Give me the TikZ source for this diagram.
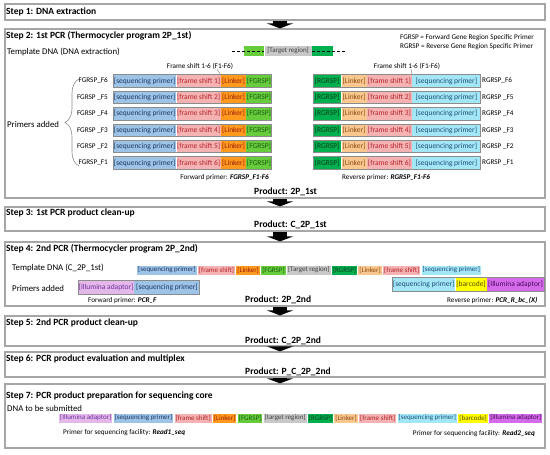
\documentclass[tikz,border=0pt]{standalone}
\usepackage{fontspec}
\setmainfont{Carlito}
\usetikzlibrary{arrows.meta,positioning,fit,decorations.pathreplacing}
\definecolor{BoxGrey}{HTML}{A6A6A6}
\definecolor{RowGrey}{HTML}{8C8C8C}
\definecolor{SeqBlue}{HTML}{9DC3E6}
\definecolor{SeqBlueTxt}{HTML}{1F3864}
\definecolor{SeqCyan}{HTML}{A3E7F7}
\definecolor{SeqCyanTxt}{HTML}{1F4E79}
\definecolor{FramePink}{HTML}{F5B2B2}
\definecolor{FramePinkTxt}{HTML}{B4232A}
\definecolor{LinkOrange}{HTML}{FF9A1E}
\definecolor{LinkOrangeTxt}{HTML}{9C1B0E}
\definecolor{LinkPeach}{HTML}{FAC78E}
\definecolor{LinkPeachTxt}{HTML}{8A4A12}
\definecolor{FGreen}{HTML}{66CC3C}
\definecolor{FGreenTxt}{HTML}{1D5A12}
\definecolor{RGreen}{HTML}{00B04F}
\definecolor{RGreenTxt}{HTML}{0B3A1A}
\definecolor{TargetGrey}{HTML}{C8C8C8}
\definecolor{TargetGreyTxt}{HTML}{3F3F3F}
\definecolor{IllViolet}{HTML}{E4B9EA}
\definecolor{IllVioletTxt}{HTML}{7030A0}
\definecolor{IllMagenta}{HTML}{D56BEB}
\definecolor{IllMagentaTxt}{HTML}{4A0A5C}
\definecolor{BarYellow}{HTML}{FFFF00}
\definecolor{BarYellowTxt}{HTML}{5A4B00}

\begin{document}
\begin{tikzpicture}[x=1pt,y=-1pt,
  every node/.style={font=\fontsize{7}{8}\selectfont, inner sep=0pt},
  stepbox/.style={draw=BoxGrey, line width=1.2pt, inner sep=0pt},
  steptitle/.style={anchor=west, font=\fontsize{9.5}{11}\selectfont\bfseries},
  prodlabel/.style={anchor=west, font=\fontsize{9.5}{11}\selectfont\bfseries},
  plain/.style={anchor=west, font=\fontsize{8.8}{10}\selectfont},
  note/.style={font=\fontsize{7.2}{8}\selectfont},
  seg/.style={minimum height=12pt, inner xsep=0.5pt, font=\fontsize{7.5}{8}\selectfont},
  chip/.style={minimum height=9pt, inner xsep=1pt},
  rowframe/.style={draw=RowGrey, line width=0.8pt},
  blockarrow/.style={line width=14pt, -{Triangle[width=26pt,length=5pt]}},
  curly/.style={draw=RowGrey, line width=0.6pt, decorate, decoration={brace, amplitude=14pt}}]
  \fill[white] (0,0) rectangle (550,455);
  \useasboundingbox (0,0) rectangle (550,455);

  % step boxes and titles
  \foreach \i/\ya/\yb/\ty/\title in {1/4/20/12/{DNA extraction},
      2/29/198/36/{1st PCR (Thermocycler program 2P\_1st)},
      3/207/231/213/{1st PCR product clean-up},
      4/242/306/249/{2nd PCR (Thermocycler program 2P\_2nd)},
      5/316/346/323/{2nd PCR product clean-up},
      6/352/377/359/{PCR product evaluation and multiplex},
      7/384/448/396/{PCR product preparation for sequencing core}}{
    \node[stepbox, fit={(5,\ya) (545,\yb)}] (s\i) {};
    \node[steptitle] (t\i) at (6,\ty) {Step \i: \title};
  }
  \foreach \a/\b in {1/2,2/3,3/4,4/5,5/6,6/7}
    \draw[blockarrow] ([xshift=5pt]s\a.south) -- ([xshift=5pt]s\b.north);

  % products
  \node[prodlabel] (p2) at (254,192) {Product: 2P\_1st};
  \node[prodlabel] (p3) at (254,225) {Product: C\_2P\_1st};
  \node[prodlabel] (p4) at (245,300) {Product: 2P\_2nd};
  \node[prodlabel] (p5) at (245,341) {Product: C\_2P\_2nd};
  \node[prodlabel] (p6) at (245,372) {Product: P\_C\_2P\_2nd};

  % step 2
  \node[plain] (tmpl1) at (7,52) {Template DNA (DNA extraction)};
  \node[note, anchor=west] (leg1) at (400,38) {FGRSP = Forward Gene Region Specific Primer};
  \node[note, anchor=west] (leg2) at (400,47) {RGRSP = Reverse Gene Region Specific Primer};
  \node[minimum height=10pt, minimum width=20pt, fill=FGreen, anchor=west] (tg1) at (244,51) {};
  \node[minimum height=10pt, minimum width=47pt, fill=TargetGrey, text=TargetGreyTxt, right=0pt of tg1] (tg2) {[Target region]};
  \node[minimum height=10pt, minimum width=21pt, fill=RGreen, right=0pt of tg2] (tg3) {};
  \coordinate (dl) at (232,51);
  \coordinate (dr) at (345,51);
  \draw[densely dashed, line width=0.4pt] (dl) -- (tg2.west);
  \draw[densely dashed, line width=0.4pt] (tg2.east) -- (dr);

  \node[note] (fsf) at (200,66) {Frame shift 1-6 (F1-F6)};
  \node[note] (fsr) at (407,66) {Frame shift 1-6 (F1-F6)};

  \foreach \k/\fl/\rl [evaluate=\k as \y using 81+(\k-1)*16.4] in
      {1/FGRSP\_F6/RGRSP\_F6, 2/FGRSP \_F5/RGRSP \_F5, 3/FGRSP \_F4/RGRSP \_F4,
       4/FGRSP \_F3/RGRSP \_F3, 5/FGRSP \_F2/RGRSP \_F2, 6/FGRSP\_F1/RGRSP \_F1}{
    \node[seg, fill=SeqBlue, text=SeqBlueTxt, minimum width=63pt, anchor=west] (fa\k) at (113,\y) {[sequencing primer]};
    \node[seg, fill=FramePink, text=FramePinkTxt, minimum width=44pt, right=0pt of fa\k] (fb\k) {[frame shift \k]};
    \node[seg, fill=LinkOrange, text=LinkOrangeTxt, minimum width=25pt, right=0pt of fb\k] (fc\k) {[Linker]};
    \node[seg, fill=FGreen, text=FGreenTxt, minimum width=24pt, right=0pt of fc\k] (fd\k) {[FGRSP]};
    \draw[rowframe] (fa\k.north west) rectangle (fd\k.south east);
    \node[note, anchor=east] (fl\k) at (108,\y) {\fl};
    \node[seg, fill=RGreen, text=RGreenTxt, minimum width=28pt, anchor=west] (ra\k) at (313,\y) {[RGRSP]};
    \node[seg, fill=LinkPeach, text=LinkPeachTxt, minimum width=25pt, right=0pt of ra\k] (rb\k) {[Linker]};
    \node[seg, fill=FramePink, text=FramePinkTxt, minimum width=45pt, right=0pt of rb\k] (rc\k) {[frame shift \k]};
    \node[seg, fill=SeqCyan, text=SeqCyanTxt, minimum width=68pt, right=0pt of rc\k] (rd\k) {[sequencing primer]};
    \draw[rowframe] (ra\k.north west) rectangle (rd\k.south east);
    \node[note, anchor=west] (rl\k) at (482,\y) {\rl};
  }
  \draw[RowGrey, line width=0.5pt] ([xshift=17pt]fsf.south) -- (fb1.north east);
  \draw[RowGrey, line width=0.5pt] ([xshift=4pt]fsr.south) -- (rc1.north east);

  \node[plain] (pa1) at (7,124) {Primers added};
  \coordinate (bt) at (79,79);
  \coordinate (bb) at (79,166);
  \draw[curly] (bb) -- (bt);
  \node[note, anchor=east] (fwd1) at (269,178) {Forward primer: \textbf{\textit{FGRSP\_F1-F6}}};
  \node[note, anchor=west] (rev1) at (342,178) {Reverse primer: \textbf{\textit{RGRSP\_F1-F6}}};

  % step 4
  \node[plain] (tmpl4) at (12,268) {Template DNA (C\_2P\_1st)};
  \coordinate (c4) at (136,270);
  \foreach \n/\txt/\bg/\fg [remember=\n as \prev (initially c4)] in
      {a1/[sequencing primer]/SeqBlue/SeqBlueTxt, a2/[frame shift]/FramePink/FramePinkTxt,
       a3/[Linker]/LinkOrange/LinkOrangeTxt, a4/[FGRSP]/FGreen/FGreenTxt,
       a5/[Target region]/TargetGrey/TargetGreyTxt, a6/[RGRSP]/RGreen/RGreenTxt,
       a7/[Linker]/LinkPeach/LinkPeachTxt, a8/[frame shift]/FramePink/FramePinkTxt,
       a9/[sequencing primer]/SeqCyan/SeqCyanTxt}
    \node[chip, fill=\bg, text=\fg, right=1pt of \prev] (\n) {\txt};

  \node[plain] (pa4) at (12,288) {Primers added};
  \node[seg, minimum height=13pt, fill=IllViolet, text=IllVioletTxt, minimum width=55pt, anchor=west] (fp1) at (78,287.5) {[Illumina adaptor]};
  \node[seg, minimum height=13pt, fill=SeqBlue, text=SeqBlueTxt, minimum width=65pt, right=0pt of fp1] (fp2) {[sequencing primer]};
  \draw[rowframe] (fp1.north west) rectangle (fp2.south east);
  \node[seg, minimum height=13pt, fill=SeqCyan, text=SeqCyanTxt, minimum width=63pt, anchor=west] (rp1) at (392,284.5) {[sequencing primer]};
  \node[seg, minimum height=13pt, fill=BarYellow, text=BarYellowTxt, minimum width=31pt, right=0pt of rp1] (rp2) {[barcode]};
  \node[seg, minimum height=13pt, fill=IllMagenta, text=IllMagentaTxt, minimum width=57pt, right=0pt of rp2] (rp3) {[Illumina adaptor]};
  \draw[rowframe] (rp1.north west) rectangle (rp3.south east);
  \node[note, anchor=west] (fwd4) at (88,301) {Forward primer: \textbf{\textit{PCR\_F}}};
  \node[note, anchor=west] (rev4) at (447,300) {Reverse primer: \textbf{\textit{PCR\_R\_bc\_(X)}}};

  % step 7
  \node[plain] (dna7) at (7,408) {DNA to be submitted};
  \coordinate (c7) at (58,418);
  \foreach \n/\txt/\bg/\fg [remember=\n as \prev (initially c7)] in
      {b1/[Illumina adaptor]/IllViolet/IllVioletTxt, b2/[sequencing primer]/SeqBlue/SeqBlueTxt,
       b3/[frame shift]/FramePink/FramePinkTxt, b4/[Linker]/LinkOrange/LinkOrangeTxt,
       b5/[FGRSP]/FGreen/FGreenTxt, b6/[target region]/TargetGrey/TargetGreyTxt,
       b7/[RGRSP]/RGreen/RGreenTxt, b8/[Linker]/LinkPeach/LinkPeachTxt,
       b9/[frame shift]/FramePink/FramePinkTxt, b10/[sequencing primer]/SeqCyan/SeqCyanTxt,
       b11/[barcode]/BarYellow/BarYellowTxt, b12/[Illumina adaptor]/IllMagenta/IllMagentaTxt}
    \node[chip, fill=\bg, text=\fg, right=1pt of \prev] (\n) {\txt};
  \node[note, anchor=west] (rd1) at (63,433) {Primer for sequencing facility: \textbf{\textit{Read1\_seq}}};
  \node[note, anchor=east] (rd2) at (535,434) {Primer for sequencing facility: \textbf{\textit{Read2\_seq}}};
\end{tikzpicture}
\end{document}
